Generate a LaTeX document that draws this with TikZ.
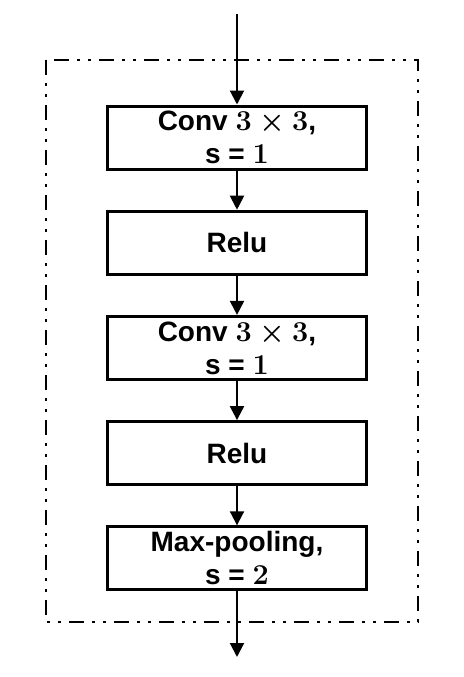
\documentclass[tikz,border=0pt]{standalone}
\usepackage{fontspec}
\setmainfont{Liberation Sans}
\usetikzlibrary{positioning,arrows.meta}

\begin{document}
\begin{tikzpicture}
    [x=0.5pt,y=-0.5pt,node distance=19.6pt,
    block/.style={draw,line width=1.5pt,minimum width=129.5pt,minimum height=31.5pt,
      align=center,inner sep=2pt,font=\fontsize{14pt}{16.5pt}\selectfont\bfseries\boldmath},
    flow/.style={line width=1pt,-{Triangle[length=7pt,width=7pt]}}]
    \useasboundingbox (0,0) rectangle (464,677);
    % frame
    \draw[line width=1pt,dash pattern=on 7.5pt off 4pt on 1.5pt off 4pt on 1.5pt off 4pt]
      (46,60) rectangle (418,622);
    % blocks
    \node[block] (conv1) at (237,137.5) {Conv $3\times3$,\\ s = $1$};
    \node[block,below=of conv1] (relu1) {Relu};
    \node[block,below=of relu1] (conv2) {Conv $3\times3$,\\ s = $1$};
    \node[block,below=of conv2] (relu2) {Relu};
    \node[block,below=of relu2] (pool) {Max-pooling,\\ s = $2$};
    \coordinate (in) at (237,14);
    \coordinate (out) at (237,657);
    \draw[flow] (in) -- (conv1); \draw[flow] (conv1) -- (relu1);
    \draw[flow] (relu1) -- (conv2); \draw[flow] (conv2) -- (relu2);
    \draw[flow] (relu2) -- (pool); \draw[flow] (pool) -- (out);
\end{tikzpicture}
\end{document}
